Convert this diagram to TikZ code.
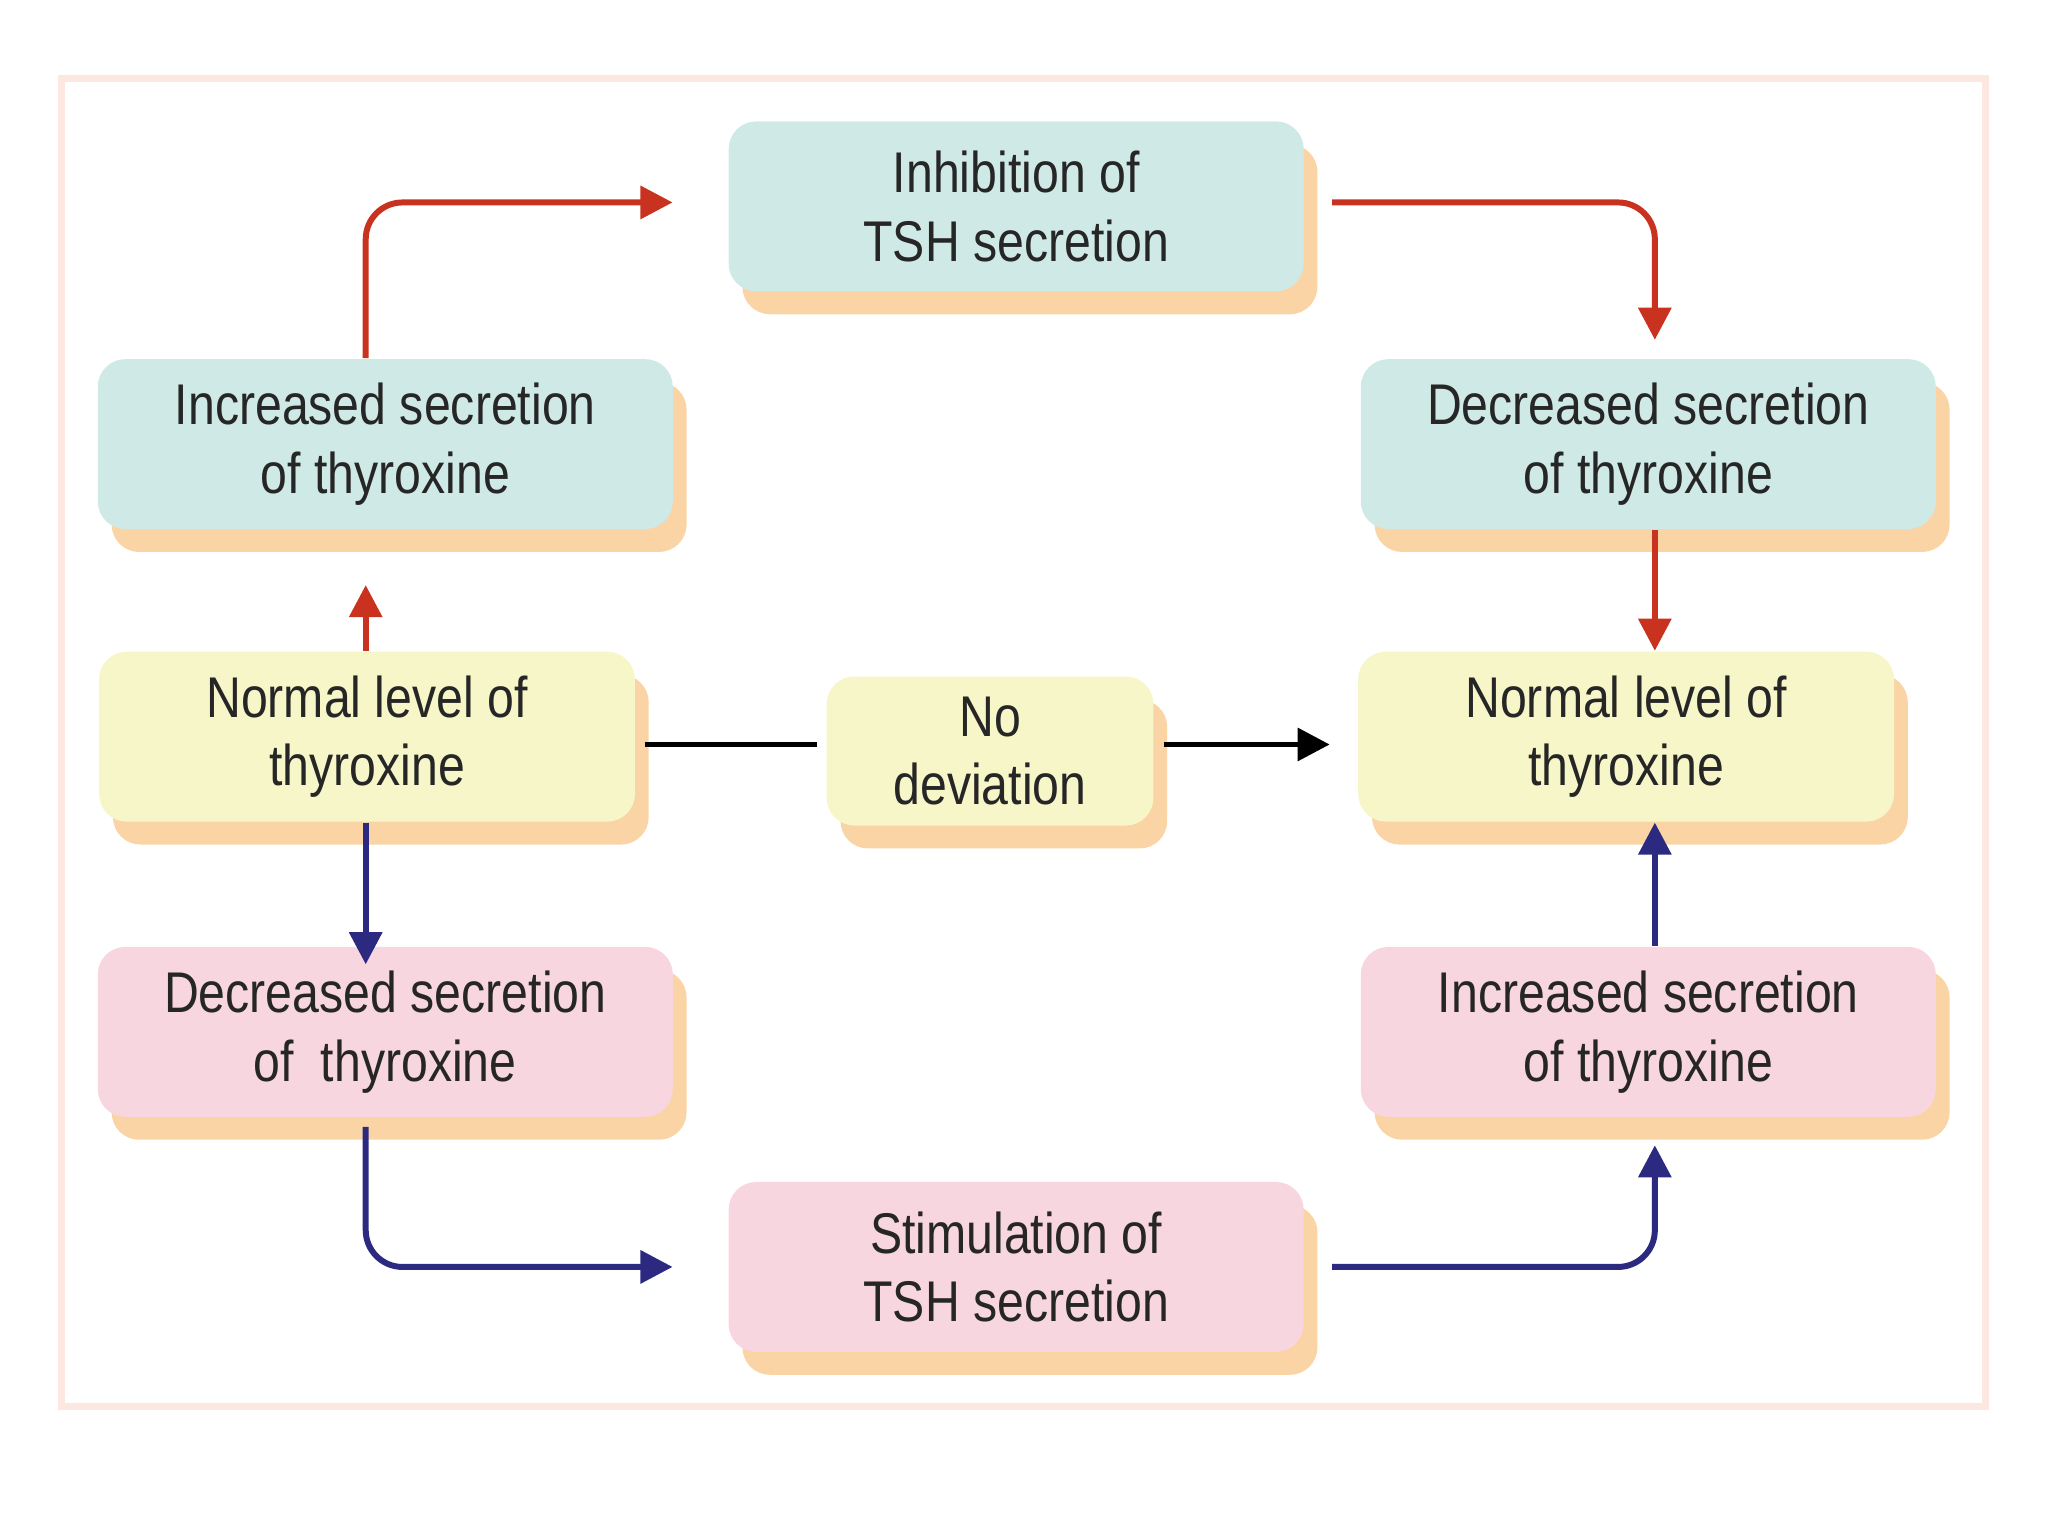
\documentclass[tikz,border=0pt]{standalone}
\usepackage{fontspec}
\setmainfont[FakeStretch=0.84]{Liberation Sans}
\usetikzlibrary{arrows.meta,shadows}
\definecolor{teal1}{HTML}{CFEAE6}
\definecolor{yel1}{HTML}{F6F6C8}
\definecolor{pink1}{HTML}{F8D6DF}
\definecolor{redA}{HTML}{C8321E}
\definecolor{blueA}{HTML}{2B2A80}
\definecolor{shad}{HTML}{F9C98E}
\tikzset{
 box/.style={rounded corners=6pt,minimum width=4.4cm,minimum height=1.3cm,align=center,
   font=\fontsize{12.5}{15}\selectfont,text=black!85,
   drop shadow={shadow xshift=3pt,shadow yshift=-5pt,fill=shad,opacity=0.8}},
 tb/.style={box,fill=teal1},
 yb/.style={box,fill=yel1},
 pb/.style={box,fill=pink1},
 ra/.style={draw=redA,line width=1.3pt,-{Triangle[length=7pt,width=7pt]},rounded corners=8pt},
 ba/.style={draw=blueA,line width=1.3pt,-{Triangle[length=7pt,width=7pt]},rounded corners=8pt},
 ka/.style={draw=black,line width=1.3pt},
}
\begin{document}
\begin{tikzpicture}[x=0.01cm,y=-0.01cm]
\useasboundingbox (0,0) rectangle (1568,1176);
\draw[draw=pink1!80!orange!40,line width=1.5pt] (47,60) rectangle (1520,1077);
\node[tb] (inh) at (778,158) {Inhibition of\\TSH secretion};
\node[tb] (incL) at (295,340) {Increased secretion\\of thyroxine};
\node[tb] (decR) at (1262,340) {Decreased secretion\\of thyroxine};
\node[yb,minimum width=4.1cm] (normL) at (281,564) {Normal level of\\thyroxine};
\node[yb,minimum width=2.5cm,minimum height=1.14cm,drop shadow={opacity=0}] (nodev) at (758,575) {No\\deviation};
\node[yb,minimum width=4.1cm] (normR) at (1245,564) {Normal level of\\thyroxine};
\node[pb] (decL) at (295,790) {Decreased secretion\\of~~thyroxine};
\node[pb] (incR) at (1262,790) {Increased secretion\\of thyroxine};
\node[pb] (stim) at (778,970) {Stimulation of\\TSH secretion};
\coordinate (a1) at (280,155);
\coordinate (a2) at (1267,155);
\coordinate (b1) at (280,970);
\coordinate (b2) at (1267,970);
\draw[ra] (incL.north -| 280,0) -- (a1) -- ([xshift=-12pt]inh.west |- a1);
\draw[ra] ([xshift=6pt]inh.east |- a2) -- (a2) -- ([yshift=4pt]decR.north -| a2);
\draw[ra] (decR.south -| a2) -- (normR.north -| a2);
\draw[ra] (normL.north -| a1) -- ([yshift=-12pt]incL.south -| a1);
\draw[ba] (normL.south -| a1) -- ([yshift=-4pt]decL.north -| a1);
\draw[ba] ([yshift=-2pt]decL.south -| b1) -- (b1) -- ([xshift=-12pt]stim.west |- b1);
\draw[ba] ([xshift=6pt]stim.east |- b2) -- (b2) -- ([yshift=-6pt]incR.south -| b2);
\draw[ba] (incR.north -| b2) -- (normR.south -| b2);
\draw[ka] ([xshift=2pt]normL.east |- 0,570) -- ([xshift=-2pt]nodev.west |- 0,570);
\draw[ka,-{Triangle[length=7pt,width=7pt]}] ([xshift=2pt]nodev.east |- 0,570) -- ([xshift=-6pt]normR.west |- 0,570);
\end{tikzpicture}
\end{document}
